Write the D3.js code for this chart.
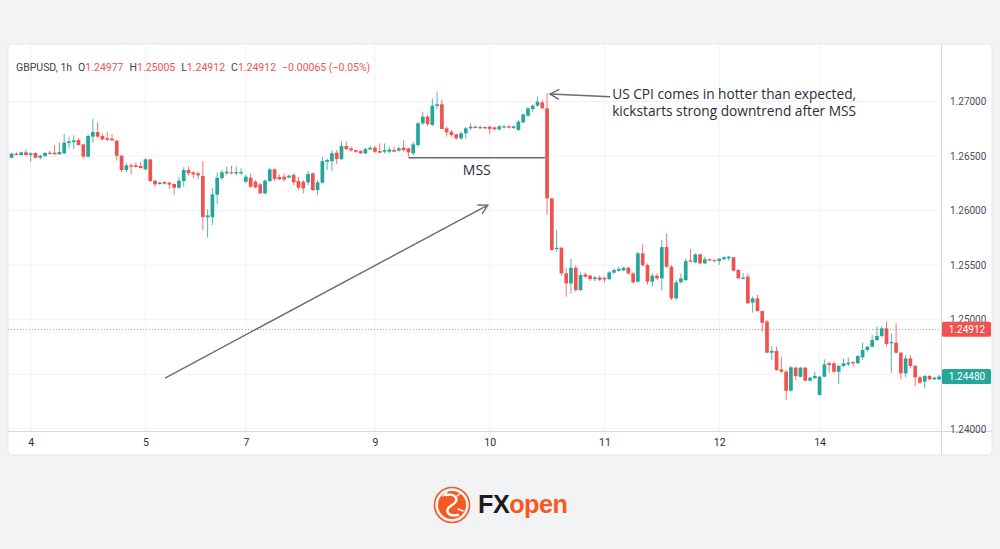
<!DOCTYPE html>
<html><head><meta charset="utf-8">
<script src="https://cdn.jsdelivr.net/npm/d3@7"></script>
<style>
html,body{margin:0;padding:0;background:#f2f3f5;}
svg{display:block;}
</style></head>
<body>
<svg id="c" width="1000" height="549"></svg>
<script>
// ---- data (GBPUSD 1h) ----
const openP = [1.26485,1.26522,1.26510,1.26534,1.26510,1.26528,1.26485,1.26500,1.26531,1.26531,1.26516,1.26525,1.26620,1.26629,1.26647,1.26607,1.26494,1.26678,1.26720,1.26684,1.26665,1.26659,1.26641,1.26503,1.26372,1.26415,1.26415,1.26409,1.26378,1.26470,1.26274,1.26244,1.26262,1.26256,1.26244,1.26210,1.26271,1.26372,1.26351,1.26342,1.26317,1.25938,1.25941,1.26146,1.26299,1.26342,1.26351,1.26342,1.26342,1.26265,
1.26302,1.26265,1.26241,1.26158,1.26271,1.26378,1.26308,1.26311,1.26302,1.26326,1.26271,1.26265,1.26259,1.26341,1.26189,1.26256,1.26448,1.26454,1.26531,1.26473,1.26592,1.26571,1.26555,1.26546,1.26525,1.26561,1.26577,1.26546,1.26540,1.26540,1.26555,1.26549,1.26577,1.26571,1.26525,1.26601,1.26800,1.26861,1.26784,1.26959,1.26974,1.26754,1.26723,1.26699,1.26662,1.26708,1.26754,1.26769,1.26754,1.26766,
1.26769,1.26763,1.26745,1.26763,1.26772,1.26757,1.26739,1.26809,1.26870,1.26931,1.26962,1.26992,1.26937,1.26112,1.25648,1.25660,1.25425,1.25333,1.25477,1.25272,1.25416,1.25404,1.25373,1.25388,1.25385,1.25373,1.25431,1.25449,1.25452,1.25477,1.25425,1.25349,1.25608,1.25501,1.25349,1.25404,1.25379,1.25666,1.25486,1.25196,1.25343,1.25364,1.25544,1.25526,1.25599,1.25517,1.25554,1.25548,1.25539,1.25554,
1.25563,1.25572,1.25456,1.25374,1.25395,1.25157,1.25196,1.25080,1.24983,1.24698,1.24714,1.24546,1.24524,1.24350,1.24561,1.24478,1.24561,1.24442,1.24466,1.24310,1.24478,1.24601,1.24601,1.24524,1.24576,1.24591,1.24613,1.24601,1.24656,1.24723,1.24753,1.24814,1.24851,1.24921,1.24784,1.24790,1.24698,1.24509,1.24646,1.24576,1.24472,1.24433,1.24485,1.24454,1.24454];
const highP = [1.26531,1.26534,1.26543,1.26561,1.26534,1.26534,1.26513,1.26537,1.26549,1.26601,1.26623,1.26702,1.26678,1.26690,1.26662,1.26613,1.26699,1.26840,1.26812,1.26708,1.26720,1.26702,1.26647,1.26510,1.26433,1.26433,1.26442,1.26449,1.26479,1.26473,1.26280,1.26268,1.26268,1.26265,1.26250,1.26311,1.26397,1.26403,1.26360,1.26357,1.26455,1.26012,1.26204,1.26348,1.26372,1.26403,1.26409,1.26403,1.26387,1.26326,
1.26341,1.26280,1.26250,1.26286,1.26393,1.26387,1.26332,1.26341,1.26332,1.26341,1.26311,1.26280,1.26363,1.26351,1.26280,1.26494,1.26479,1.26555,1.26555,1.26632,1.26632,1.26586,1.26561,1.26555,1.26577,1.26595,1.26595,1.26616,1.26616,1.26586,1.26586,1.26586,1.26647,1.26577,1.26632,1.26815,1.26907,1.26876,1.27029,1.27090,1.27014,1.26769,1.26739,1.26708,1.26723,1.26769,1.26800,1.26778,1.26778,1.26772,
1.26778,1.26769,1.26784,1.26784,1.26781,1.26781,1.26830,1.26891,1.26952,1.26974,1.27044,1.27014,1.27075,1.26118,1.25822,1.25666,1.25477,1.25556,1.25501,1.25434,1.25434,1.25416,1.25404,1.25404,1.25394,1.25446,1.25471,1.25486,1.25486,1.25486,1.25440,1.25624,1.25691,1.25517,1.25425,1.25425,1.25730,1.25792,1.25501,1.25364,1.25425,1.25562,1.25648,1.25608,1.25608,1.25578,1.25563,1.25554,1.25563,1.25584,
1.25584,1.25578,1.25462,1.25425,1.25425,1.25212,1.25227,1.25083,1.24998,1.24760,1.24753,1.24662,1.24540,1.24576,1.24570,1.24570,1.24570,1.24478,1.24524,1.24485,1.24637,1.24616,1.24616,1.24585,1.24646,1.24653,1.24616,1.24677,1.24790,1.24760,1.24860,1.24937,1.24943,1.24983,1.24876,1.24967,1.24705,1.24677,1.24677,1.24585,1.24485,1.24494,1.24494,1.24478,1.24494];
const lowP = [1.26479,1.26507,1.26503,1.26503,1.26447,1.26479,1.26470,1.26494,1.26516,1.26513,1.26513,1.26516,1.26568,1.26565,1.26598,1.26479,1.26488,1.26623,1.26668,1.26641,1.26638,1.26641,1.26458,1.26351,1.26348,1.26332,1.26397,1.26387,1.26372,1.26262,1.26219,1.26235,1.26241,1.26198,1.26143,1.26201,1.26219,1.26323,1.26296,1.26287,1.25822,1.25755,1.25868,1.26060,1.26280,1.26326,1.26335,1.26326,1.26326,1.26250,
1.26210,1.26204,1.26152,1.26149,1.26265,1.26271,1.26280,1.26265,1.26296,1.26235,1.26189,1.26158,1.26235,1.26180,1.26143,1.26247,1.26372,1.26363,1.26427,1.26464,1.26555,1.26540,1.26531,1.26519,1.26519,1.26555,1.26525,1.26525,1.26525,1.26525,1.26534,1.26540,1.26540,1.26494,1.26509,1.26586,1.26784,1.26778,1.26778,1.26931,1.26745,1.26677,1.26677,1.26647,1.26647,1.26662,1.26739,1.26754,1.26748,1.26748,
1.26699,1.26736,1.26736,1.26754,1.26751,1.26748,1.26729,1.26800,1.26861,1.26907,1.26952,1.26931,1.25960,1.25633,1.25624,1.25404,1.25211,1.25242,1.25257,1.25263,1.25385,1.25355,1.25355,1.25355,1.25343,1.25364,1.25422,1.25440,1.25446,1.25410,1.25333,1.25343,1.25486,1.25324,1.25303,1.25364,1.25272,1.25477,1.25181,1.25181,1.25333,1.25355,1.25526,1.25517,1.25508,1.25511,1.25539,1.25532,1.25502,1.25548,
1.25542,1.25441,1.25371,1.25371,1.25144,1.25065,1.25074,1.24891,1.24692,1.24631,1.24530,1.24515,1.24265,1.24341,1.24448,1.24472,1.24433,1.24433,1.24454,1.24310,1.24472,1.24515,1.24509,1.24411,1.24570,1.24576,1.24570,1.24595,1.24631,1.24708,1.24747,1.24808,1.24839,1.24753,1.24515,1.24692,1.24454,1.24472,1.24555,1.24393,1.24411,1.24372,1.24448,1.24448,1.24448];
const closeP = [1.26522,1.26510,1.26534,1.26510,1.26525,1.26485,1.26503,1.26528,1.26519,1.26516,1.26537,1.26623,1.26635,1.26644,1.26601,1.26497,1.26684,1.26720,1.26678,1.26653,1.26650,1.26644,1.26503,1.26372,1.26415,1.26403,1.26400,1.26390,1.26470,1.26271,1.26241,1.26256,1.26247,1.26238,1.26210,1.26274,1.26372,1.26342,1.26332,1.26323,1.25941,1.25957,1.26149,1.26302,1.26351,1.26357,1.26342,1.26354,1.26354,1.26311,
1.26219,1.26213,1.26158,1.26275,1.26378,1.26290,1.26286,1.26286,1.26320,1.26259,1.26210,1.26204,1.26335,1.26189,1.26259,1.26454,1.26464,1.26525,1.26473,1.26592,1.26564,1.26552,1.26540,1.26525,1.26564,1.26577,1.26540,1.26531,1.26555,1.26561,1.26540,1.26571,1.26555,1.26534,1.26607,1.26800,1.26861,1.26794,1.26962,1.26974,1.26748,1.26717,1.26693,1.26662,1.26708,1.26754,1.26769,1.26760,1.26766,1.26754,
1.26748,1.26745,1.26772,1.26772,1.26760,1.26772,1.26815,1.26882,1.26937,1.26962,1.26998,1.26937,1.26112,1.25639,1.25660,1.25425,1.25333,1.25477,1.25272,1.25410,1.25394,1.25373,1.25388,1.25367,1.25370,1.25434,1.25455,1.25465,1.25477,1.25425,1.25343,1.25608,1.25501,1.25349,1.25404,1.25379,1.25666,1.25486,1.25196,1.25343,1.25379,1.25538,1.25532,1.25599,1.25517,1.25554,1.25542,1.25539,1.25560,1.25572,
1.25578,1.25450,1.25380,1.25386,1.25151,1.25196,1.25080,1.24973,1.24698,1.24714,1.24540,1.24524,1.24350,1.24564,1.24485,1.24561,1.24442,1.24469,1.24485,1.24478,1.24591,1.24585,1.24524,1.24576,1.24601,1.24607,1.24601,1.24668,1.24723,1.24753,1.24814,1.24851,1.24921,1.24778,1.24796,1.24698,1.24509,1.24646,1.24576,1.24472,1.24423,1.24485,1.24454,1.24469,1.24480];

const tickIdx = [4, 28, 49, 76, 100, 124, 148, 169];
const tickLabels = ["4", "5", "7", "9", "10", "11", "12", "14"];
const priceTicks = [1.240, 1.245, 1.250, 1.255, 1.260, 1.265, 1.270];

const headerSymbol = "GBPUSD, 1h";
const headerKeys = ["O", "H", "L", "C"];
const headerVals = ["1.24977", "1.25005", "1.24912", "1.24912"];
const headerChange = "\u22120.00065 (\u22120.05%)";
const markerPrice = 1.24912;

// annotations in data space: [index, price]
const mssLine = [[83, 1.26485], [111.6, 1.26485]];
const mssLabel = "MSS";
const longArrow = [[32.1, 1.24466], [99.6, 1.26051]];
const cpiArrow = [[125.2, 1.27044], [112.6, 1.27069]];
const cpiText = ["US CPI comes in hotter than expected,", "kickstarts strong downtrend after MSS"];

// ---- drawing ----
const W = 1000, H = 549;
const plot = {l: 8, r: 941, t: 44, b: 431};
const UP = "#26a69a", DOWN = "#ef5350", GRID = "#f0f2f6", TXT = "#4a4e59", ANN = "#676b76";
const n = openP.length;
const candles = d3.range(n).map(i => ({i, o: openP[i], h: highP[i], l: lowP[i], c: closeP[i]}));

const svg = d3.select("#c");
svg.append("rect").attr("width", W).attr("height", H).attr("fill", "#f2f3f5");
svg.append("rect").attr("x", 8).attr("y", 44).attr("width", 984).attr("height", 411)
  .attr("rx", 3).attr("fill", "#fff").attr("stroke", "#e4e6eb");

const x = d3.scaleLinear().domain([0, n - 1]).range([11.6, 11.6 + 4.781 * (n - 1)]);
const y = d3.scaleLinear().domain([1.24, 1.27]).range([428.9, 101.5]);

svg.append("clipPath").attr("id", "pc").append("rect")
  .attr("x", plot.l).attr("y", plot.t).attr("width", plot.r - plot.l).attr("height", plot.b - plot.t);

const g = svg.append("g").attr("clip-path", "url(#pc)");
// grid
g.selectAll(".hg").data(priceTicks).enter().append("line")
  .attr("x1", plot.l).attr("x2", plot.r).attr("y1", d => y(d)).attr("y2", d => y(d))
  .attr("stroke", GRID).attr("stroke-width", 1);
g.selectAll(".vg").data(tickIdx).enter().append("line")
  .attr("x1", d => x(d)).attr("x2", d => x(d)).attr("y1", plot.t).attr("y2", plot.b)
  .attr("stroke", GRID).attr("stroke-width", 1);

// marker dotted line
const my = Math.round(y(markerPrice)) + 0.5;
g.append("line").attr("x1", plot.l).attr("x2", plot.r)
  .attr("y1", my).attr("y2", my)
  .attr("stroke", "#f08a88").attr("stroke-width", 1).attr("stroke-dasharray", "1 2");

// candles
const cg = g.append("g");
cg.selectAll(".wick").data(candles).enter().append("line")
  .attr("x1", d => x(d.i)).attr("x2", d => x(d.i))
  .attr("y1", d => y(d.h)).attr("y2", d => y(d.l))
  .attr("stroke", d => d.c >= d.o ? UP : DOWN).attr("stroke-width", 1).attr("opacity", 0.8);
const bw = 3.7;
cg.selectAll(".body").data(candles).enter().append("rect")
  .attr("x", d => x(d.i) - bw / 2).attr("width", bw)
  .attr("y", d => y(Math.max(d.o, d.c)))
  .attr("height", d => Math.max(1.2, Math.abs(y(d.o) - y(d.c))))
  .attr("fill", d => d.c >= d.o ? UP : DOWN);

// annotations
const ann = svg.append("g").attr("clip-path", "url(#pc)");
function P(p) { return [x(p[0]), y(p[1])]; }
function arrow(a, b) {
  const [x1, y1] = P(a), [x2, y2] = P(b);
  ann.append("line").attr("x1", x1).attr("y1", y1).attr("x2", x2).attr("y2", y2)
    .attr("stroke", ANN).attr("stroke-width", 1.4);
  const ang = Math.atan2(y1 - y2, x1 - x2), L = 10, s = 0.5;
  const pa = [x2 + L * Math.cos(ang + s), y2 + L * Math.sin(ang + s)];
  const pb = [x2 + L * Math.cos(ang - s), y2 + L * Math.sin(ang - s)];
  ann.append("path").attr("d", `M${pa[0]},${pa[1]}L${x2},${y2}L${pb[0]},${pb[1]}`)
    .attr("fill", "none").attr("stroke", ANN).attr("stroke-width", 1.4).attr("stroke-linecap", "round");
}
{
  const [x1, y1] = P(mssLine[0]), [x2, y2] = P(mssLine[1]);
  ann.append("line").attr("x1", x1).attr("y1", y1).attr("x2", x2).attr("y2", y2)
    .attr("stroke", ANN).attr("stroke-width", 1.4);
  ann.append("text").attr("x", (x1 + x2) / 2).attr("y", y1 + 17).attr("text-anchor", "middle")
    .attr("font-family", "Open Sans").attr("font-size", 14).attr("fill", "#2a2e39").text(mssLabel);
}
arrow(longArrow[0], longArrow[1]);
arrow(cpiArrow[0], cpiArrow[1]);
{
  const [sx, sy] = P(cpiArrow[0]);
  const t = ann.selectAll(".cpi").data(cpiText).enter().append("text")
    .attr("x", sx + 2).attr("y", (d, k) => sy + 2 + k * 17)
    .attr("font-family", "Open Sans").attr("font-size", 14).attr("fill", "#2a2e39").text(d => d);
  const w = t.node().getComputedTextLength();
  t.attr("font-size", 14 * 244 / w);
}

// axes borders
svg.append("line").attr("x1", plot.r + 0.5).attr("x2", plot.r + 0.5).attr("y1", 44).attr("y2", 455)
  .attr("stroke", "#d6d8de");
svg.append("line").attr("x1", 8).attr("x2", 992).attr("y1", plot.b + 0.5).attr("y2", plot.b + 0.5)
  .attr("stroke", "#d6d8de");

// price axis
const ya = svg.append("g").attr("transform", `translate(${plot.r},0)`)
  .call(d3.axisRight(y).tickValues(priceTicks).tickFormat(d3.format(".5f")).tickSize(0).tickPadding(9));
ya.select(".domain").remove();
ya.selectAll("text").attr("font-family", "Roboto").attr("font-size", 10).attr("fill", TXT);

// time axis
const xa = svg.append("g").attr("transform", `translate(0,${plot.b})`)
  .call(d3.axisBottom(x).tickValues(tickIdx).tickFormat((d, k) => tickLabels[k]).tickSize(0).tickPadding(8));
xa.select(".domain").remove();
xa.selectAll("text").attr("font-family", "Roboto").attr("font-size", 10.5).attr("fill", "#2a2e39");

// price labels
function priceTag(p, col) {
  const yy = y(p);
  svg.append("rect").attr("x", plot.r + 1).attr("y", yy - 7.5).attr("width", 49).attr("height", 15)
    .attr("rx", 1.5).attr("fill", col);
  svg.append("text").attr("x", plot.r + 26).attr("y", yy).attr("dy", "0.35em").attr("text-anchor", "middle")
    .attr("font-family", "Roboto").attr("font-size", 10).attr("fill", "#fff").text(d3.format(".5f")(p));
}
priceTag(markerPrice, DOWN);
priceTag(closeP[n - 1], UP);

// header legend
const hd = svg.append("text").attr("x", 16).attr("y", 67).attr("dy", "0.35em")
  .attr("font-family", "Roboto").attr("font-size", 10.5);
hd.append("tspan").attr("fill", "#3b3f4a").text(headerSymbol);
headerKeys.forEach((k, j) => {
  hd.append("tspan").attr("dx", 6).attr("fill", "#3b3f4a").text(k);
  hd.append("tspan").attr("fill", DOWN).text(headerVals[j]);
});
hd.append("tspan").attr("dx", 6).attr("fill", DOWN).text(headerChange);

// logo
const logo = svg.append("g");
const OR = "#f6591f";
logo.append("circle").attr("cx", 452).attr("cy", 505).attr("r", 17.5).attr("fill", "none").attr("stroke", OR).attr("stroke-width", 1.6);
logo.append("circle").attr("cx", 452).attr("cy", 505).attr("r", 14).attr("fill", OR);
logo.append("path").attr("d", "M446,495 C456,493 460,500 452,505 C444,510 447,517 458,515")
  .attr("fill", "none").attr("stroke", "#fff").attr("stroke-width", 2.4).attr("stroke-linecap", "round");
logo.append("path").attr("d", "M443,496 L447,492 M457,496 L461,493 M458,509 L463,511")
  .attr("fill", "none").attr("stroke", "#fff").attr("stroke-width", 1.5).attr("stroke-linecap", "round");
const lt = logo.append("text").attr("x", 478).attr("y", 513)
  .attr("font-family", "Liberation Sans").attr("font-weight", "bold").attr("font-size", 22).attr("letter-spacing", -0.5);
lt.append("tspan").attr("fill", "#1b1b1b").text("FX");
lt.append("tspan").attr("fill", OR).text("open");
const lw = lt.node().getComputedTextLength();
lt.attr("font-size", 22 * 89 / lw);
</script>
</body></html>
